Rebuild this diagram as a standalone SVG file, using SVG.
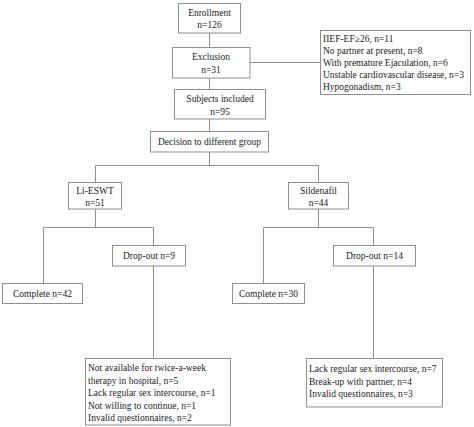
<svg xmlns="http://www.w3.org/2000/svg" width="474" height="427" viewBox="0 0 474 427">
<style>
.box{fill:#fff;stroke:#8f8f8f;stroke-width:1}
.ln{stroke:#8f8f8f;stroke-width:1;fill:none}
text{font-family:"Liberation Serif","Times New Roman",serif;font-size:9.5px;fill:#222}
.c{text-anchor:middle}
</style>
<rect width="474" height="427" fill="#fff"/>
<g id="connectors">
<path class="ln" d="M209.5 33V47M209.5 78V89M209.5 119V131M209.5 152V165.5M250 62.5H320"/>
<path class="ln" d="M95.5 165.5H318.5M95.5 165.5V182M318.5 165.5V182"/>
<path class="ln" d="M95.5 209V227.5M43.5 227.5H153.5M43.5 227.5V283M153.5 227.5V245M153.5 266V358"/>
<path class="ln" d="M318.5 209V227.5M263.5 227.5H373.5M263.5 227.5V283M373.5 227.5V245M373.5 266V358"/>
</g>
<g id="enrollment"><rect class="box" x="178.5" y="3.5" width="62" height="29.5"/><text class="c" x="209.5" y="15.5">Enrollment</text><text class="c" x="209.5" y="28">n=126</text></g>
<g id="exclusion"><rect class="box" x="172.5" y="47.5" width="77.5" height="30.5"/><text class="c" x="211" y="60">Exclusion</text><text class="c" x="211" y="73">n=31</text></g>
<g id="exclusion-reasons"><rect class="box" x="320.5" y="30.5" width="150" height="64"/>
<text x="323" y="41.5">IIEF-EF≥26, n=11</text>
<text x="323" y="53.5">No partner at present, n=8</text>
<text x="323" y="65.5">With premature Ejaculation, n=6</text>
<text x="323" y="77.5">Unstable cardiovascular disease, n=3</text>
<text x="323" y="89.5">Hypogonadism, n=3</text></g>
<g id="included"><rect class="box" x="174.5" y="89.5" width="91" height="29.5"/><text class="c" x="220" y="101.5">Subjects included</text><text class="c" x="220" y="114.5">n=95</text></g>
<g id="decision"><rect class="box" x="150.5" y="131.5" width="118" height="20.5"/><text class="c" x="209.5" y="145">Decision to different group</text></g>
<g id="li-eswt"><rect class="box" x="68.5" y="182.5" width="53" height="26.5"/><text class="c" x="95" y="194">Li-ESWT</text><text class="c" x="95" y="206">n=51</text></g>
<g id="sildenafil"><rect class="box" x="288.5" y="182.5" width="60" height="26.5"/><text class="c" x="318.5" y="194">Sildenafil</text><text class="c" x="318.5" y="206">n=44</text></g>
<g id="complete-42"><rect class="box" x="2.5" y="283.5" width="80" height="20"/><text class="c" x="42.5" y="297">Complete n=42</text></g>
<g id="dropout-9"><rect class="box" x="112.5" y="245.5" width="73" height="20.5"/><text class="c" x="149" y="259">Drop-out n=9</text></g>
<g id="complete-30"><rect class="box" x="232.5" y="283.5" width="72" height="20"/><text class="c" x="268.5" y="297">Complete n=30</text></g>
<g id="dropout-14"><rect class="box" x="333.5" y="245.5" width="82" height="20.5"/><text class="c" x="374.5" y="259">Drop-out n=14</text></g>
<g id="dropout-9-reasons"><rect class="box" x="85.5" y="358.5" width="145" height="66.5"/>
<text x="88" y="371">Not available for twice-a-week</text>
<text x="88" y="383.5">therapy in hospital, n=5</text>
<text x="88" y="396">Lack regular sex intercourse, n=1</text>
<text x="88" y="408.5">Not willing to continue, n=1</text>
<text x="88" y="421">Invalid questionnaires, n=2</text></g>
<g id="dropout-14-reasons"><rect class="box" x="306.5" y="358.5" width="136" height="48.5"/>
<text x="309" y="372">Lack regular sex intercourse, n=7</text>
<text x="309" y="384.5">Break-up with partner, n=4</text>
<text x="309" y="397">Invalid questionnaires, n=3</text></g>
</svg>
